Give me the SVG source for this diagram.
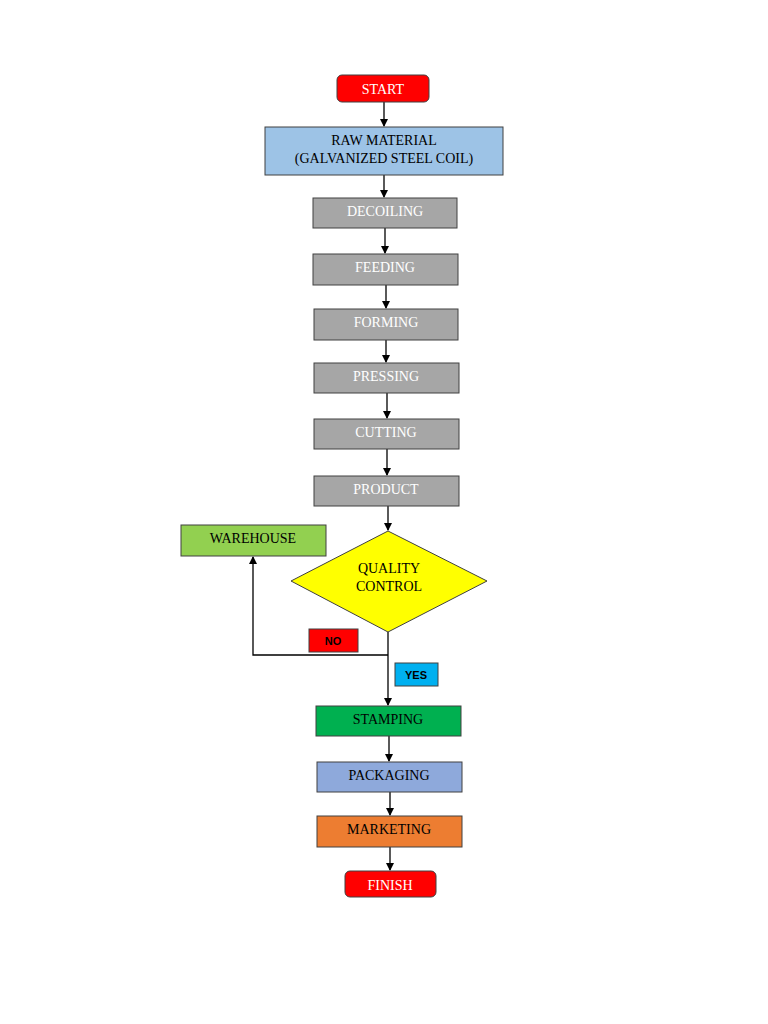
<svg xmlns="http://www.w3.org/2000/svg" width="768" height="1024" viewBox="0 0 768 1024">
<style>
text{font-family:"Liberation Serif",serif;font-size:14px;text-anchor:middle}
.w{fill:#fff}.k{fill:#000}
.b{stroke:#404040;stroke-width:1}
.s{font-family:"Liberation Sans",sans-serif;font-size:11px;font-weight:bold}
.c{stroke:#000;stroke-width:1.3;fill:none;marker-end:url(#a)}
</style>
<defs><marker id="a" markerWidth="8" markerHeight="8" refX="7" refY="4" orient="auto" markerUnits="userSpaceOnUse"><path d="M0,0L8,4L0,8z" fill="#000"/></marker></defs>
<rect width="768" height="1024" fill="#fff"/>
<g id="connectors">
<path class="c" d="M384,102V126"/>
<path class="c" d="M384,175V197"/>
<path class="c" d="M385,228V253"/>
<path class="c" d="M386,285V308"/>
<path class="c" d="M386,340V362"/>
<path class="c" d="M387,393V418"/>
<path class="c" d="M387,449V475"/>
<path class="c" d="M388,506V530"/>
<path class="c" d="M388,632V705"/>
<path class="c" d="M388,655H253V557"/>
<path class="c" d="M389,736V761"/>
<path class="c" d="M390,792V815"/>
<path class="c" d="M390,847V870"/>
</g>
<g id="start"><rect x="337" y="75" width="92" height="27" rx="5" fill="#f00" class="b"/><text x="383" y="94" class="w">START</text></g>
<g id="raw"><rect x="265" y="127" width="238" height="48" fill="#9DC3E6" class="b"/><text x="384" y="145" class="k">RAW MATERIAL</text><text x="384" y="163" class="k">(GALVANIZED STEEL COIL)</text></g>
<g id="decoiling"><rect x="313" y="198" width="144" height="30" fill="#A6A6A6" class="b"/><text x="385" y="216" class="w">DECOILING</text></g>
<g id="feeding"><rect x="313" y="254" width="145" height="31" fill="#A6A6A6" class="b"/><text x="385" y="272" class="w">FEEDING</text></g>
<g id="forming"><rect x="314" y="309" width="144" height="31" fill="#A6A6A6" class="b"/><text x="386" y="327" class="w">FORMING</text></g>
<g id="pressing"><rect x="314" y="363" width="145" height="30" fill="#A6A6A6" class="b"/><text x="386" y="381" class="w">PRESSING</text></g>
<g id="cutting"><rect x="314" y="419" width="145" height="30" fill="#A6A6A6" class="b"/><text x="386" y="437" class="w">CUTTING</text></g>
<g id="product"><rect x="314" y="476" width="145" height="30" fill="#A6A6A6" class="b"/><text x="386" y="494" class="w">PRODUCT</text></g>
<g id="warehouse"><rect x="181" y="525" width="145" height="31" fill="#92D050" class="b"/><text x="253" y="543" class="k">WAREHOUSE</text></g>
<g id="qc"><polygon points="388,531 487,581 388,632 291,581" fill="#FFFF00" stroke="#404040"/><text x="389" y="573" class="k">QUALITY</text><text x="389" y="591" class="k">CONTROL</text></g>
<g id="no"><rect x="309" y="629" width="49" height="23" fill="#f00" class="b"/><text x="333" y="645" class="s">NO</text></g>
<g id="yes"><rect x="395" y="663" width="43" height="23" fill="#00B0F0" class="b"/><text x="416" y="679" class="s">YES</text></g>
<g id="stamping"><rect x="316" y="706" width="145" height="30" fill="#00B050" class="b"/><text x="388" y="724" class="k">STAMPING</text></g>
<g id="packaging"><rect x="317" y="762" width="145" height="30" fill="#8EA9DB" class="b"/><text x="389" y="780" class="k">PACKAGING</text></g>
<g id="marketing"><rect x="317" y="816" width="145" height="31" fill="#ED7D31" class="b"/><text x="389" y="834" class="k">MARKETING</text></g>
<g id="finish"><rect x="345" y="871" width="91" height="26" rx="5" fill="#f00" class="b"/><text x="390" y="890" class="w">FINISH</text></g>
</svg>
